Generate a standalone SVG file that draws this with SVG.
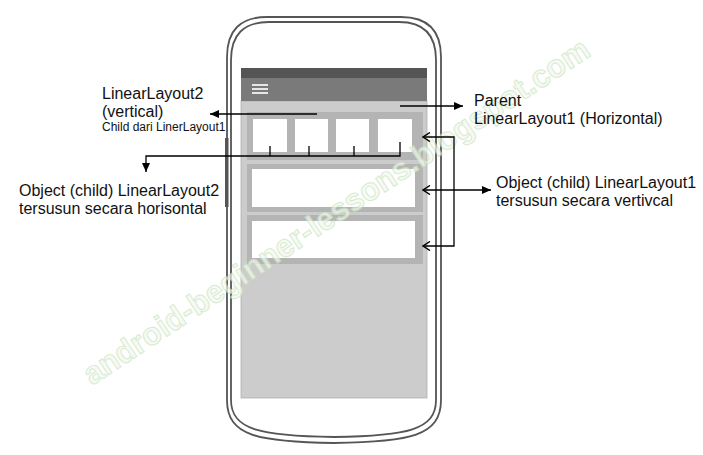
<svg xmlns="http://www.w3.org/2000/svg" width="703" height="455" viewBox="0 0 703 455">
<defs>
<marker id="tri" markerUnits="userSpaceOnUse" markerWidth="9" markerHeight="8" refX="9" refY="4" orient="auto-start-reverse"><path d="M0,0 L9,4 L0,8 Z" fill="#000"/></marker>
<marker id="chev" markerUnits="userSpaceOnUse" markerWidth="9" markerHeight="10" refX="8" refY="5" orient="auto-start-reverse"><path d="M1,0.5 L8,5 L1,9.5" fill="none" stroke="#000" stroke-width="1.4"/></marker>
</defs>
<style>
.phone{fill:none;stroke:#555;stroke-width:1.8}
.txt{font-family:"Liberation Sans",Arial,sans-serif;font-size:16px;fill:#111}
.small{font-size:12px}
.con{fill:none;stroke:#000;stroke-width:1.3}
.cont{fill:#b4b4b4}
.box{fill:#fff}
.wm{font-family:"Liberation Sans",Arial,sans-serif;font-size:32px;font-weight:bold;fill:#f2f9ee;stroke:#c8e2bc;stroke-width:1;opacity:0.7}
</style>
<rect width="703" height="455" fill="#fff"/>
<g id="phone">
<path class="phone" d="M227,57 Q227,17 267,17 L401,17 Q441,17 441,57 L441,400 C441,436 410,442 334,443 C258,442 227,436 227,400 Z"/>
<path class="phone" d="M231,60 Q231,22 269,22 L399,22 Q436,22 436,60 L436,400 C436,430 407,436 334,437 C261,436 231,430 231,400 Z"/>
<rect x="225" y="138" width="3.5" height="69" fill="#555"/>
</g>
<g id="screen">
<rect x="241" y="101" width="186" height="297" fill="#cccccc" stroke="#b0b0b0" stroke-width="0.8"/>
<rect x="241" y="68" width="186" height="10" fill="#555"/>
<rect x="241" y="78" width="186" height="23" fill="#7a7a7a"/>
<g id="hamburger" stroke="#e6e6e6" stroke-width="2"><line x1="252" y1="85" x2="268" y2="85"/><line x1="252" y1="89" x2="268" y2="89"/><line x1="252" y1="93" x2="268" y2="93"/></g>
</g>
<g id="row1">
<rect class="cont" x="247" y="112" width="176" height="48"/>
<rect class="box" x="253" y="119" width="34" height="33"/>
<rect class="box" x="295" y="119" width="33" height="33"/>
<rect class="box" x="336" y="119" width="33" height="33"/>
<rect class="box" x="378" y="119" width="34" height="33"/>
</g>
<g id="row2">
<rect class="cont" x="247" y="164" width="176" height="48"/>
<rect class="box" x="252" y="169" width="163" height="38"/>
</g>
<g id="row3">
<rect class="cont" x="247" y="215" width="176" height="49"/>
<rect class="box" x="252" y="221" width="163" height="37"/>
</g>
<text class="wm" x="92" y="386" transform="rotate(-33.5 92 386)" textLength="600" lengthAdjust="spacingAndGlyphs">android-beginner-lessons.blogspot.com</text>
<g id="connectors">
<line class="con" x1="317" y1="114" x2="210" y2="114" marker-end="url(#tri)"/>
<line class="con" x1="270" y1="146" x2="270" y2="156"/>
<line class="con" x1="309" y1="146" x2="309" y2="156"/>
<line class="con" x1="354" y1="146" x2="354" y2="156"/>
<polyline class="con" points="400,142 400,156 146,156 146,172" marker-end="url(#tri)"/>
<line class="con" x1="400" y1="106" x2="463" y2="106" marker-end="url(#tri)"/>
<polyline class="con" points="423,137 454,137 454,246 423,246" marker-start="url(#chev)" marker-end="url(#chev)"/>
<line class="con" x1="423" y1="190" x2="491" y2="190" marker-start="url(#chev)" marker-end="url(#tri)"/>
</g>
<g id="label-ll2">
<text class="txt" x="102" y="99">LinearLayout2</text>
<text class="txt" x="102" y="117">(vertical)</text>
<text class="txt small" x="102" y="131">Child dari LinerLayout1</text>
</g>
<g id="label-child2">
<text class="txt" x="19" y="196">Object (child) LinearLayout2</text>
<text class="txt" x="19" y="214">tersusun secara horisontal</text>
</g>
<g id="label-parent">
<text class="txt" x="474" y="106">Parent</text>
<text class="txt" x="474" y="124">LinearLayout1 (Horizontal)</text>
</g>
<g id="label-child1">
<text class="txt" x="496" y="188">Object (child) LinearLayout1</text>
<text class="txt" x="496" y="206">tersusun secara vertivcal</text>
</g>
</svg>
